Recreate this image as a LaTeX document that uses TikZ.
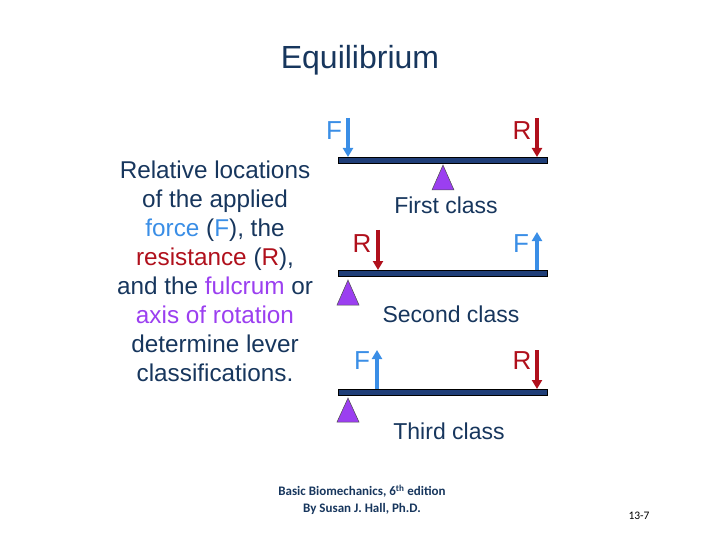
\documentclass[tikz,border=0pt]{standalone}
\usepackage{fontspec}
\setmainfont{Liberation Sans}
\newfontfamily\carl{Carlito}
\usetikzlibrary{arrows.meta}
\definecolor{txt}{HTML}{17365D}
\definecolor{fblue}{HTML}{3A8EE6}
\definecolor{rred}{HTML}{B0101C}
\definecolor{fpurp}{HTML}{9B3FF0}
\definecolor{barc}{HTML}{1F3E78}
\tikzset{
 bar/.style={fill=barc,draw=black,line width=0.6pt},
 fulc/.style={fill=fpurp,draw=black!70,line width=0.5pt},
 farr/.style={fblue,line width=3.6pt,-{Triangle[length=9pt,width=10pt]}},
 rarr/.style={rred,line width=3.6pt,-{Triangle[length=9pt,width=10pt]}},
 flab/.style={text=fblue,font=\fontsize{26}{26}\selectfont,inner sep=0pt},
 rlab/.style={text=rred,font=\fontsize{26}{26}\selectfont,inner sep=0pt},
 cls/.style={text=txt,font=\fontsize{23}{23}\selectfont,inner sep=0pt},
}
\begin{document}
\begin{tikzpicture}[x=1pt,y=-1pt]
\useasboundingbox (0,0) rectangle (720,540);
\node[text=txt,font=\fontsize{32}{32}\selectfont] (title) at (360,60) {Equilibrium};
\node[text=txt,align=center,font=\fontsize{24.3}{29}\selectfont,anchor=north] (desc) at (215,157)
 {Relative locations\\of the applied\\\textcolor{fblue}{force} (\textcolor{fblue}{F}), the\\\textcolor{rred}{resistance} (\textcolor{rred}{R}),\\and the \textcolor{fpurp}{fulcrum} or\\\textcolor{fpurp}{axis of rotation}\\determine lever\\classifications.};
% first class
\path[bar] (338,157) rectangle (547,163);
\path[fulc] (432,190) -- (443,165) -- (454,190) -- cycle;
\coordinate (f1s) at (348,118); \coordinate (f1e) at (348,157);
\coordinate (r1s) at (537,118); \coordinate (r1e) at (537,157);
\draw[farr] (f1s) -- (f1e);
\draw[rarr] (r1s) -- (r1e);
\node[flab] (F1) at (334,131) {F};
\node[rlab] (R1) at (522,131) {R};
\node[cls] (c1) at (446,205) {First class};
% second class
\path[bar] (338,270) rectangle (547,276);
\path[fulc] (337,305) -- (348,280) -- (359,305) -- cycle;
\coordinate (r2s) at (378,230); \coordinate (r2e) at (378,270);
\coordinate (f2s) at (537,270); \coordinate (f2e) at (537,232);
\draw[rarr] (r2s) -- (r2e);
\draw[farr] (f2s) -- (f2e);
\node[rlab] (R2) at (362,244) {R};
\node[flab] (F2) at (521,244) {F};
\node[cls] (c2) at (451,314) {Second class};
% third class
\path[bar] (338,389) rectangle (547,395);
\path[fulc] (337,422) -- (348,398) -- (359,422) -- cycle;
\coordinate (f3s) at (377,389); \coordinate (f3e) at (377,350);
\coordinate (r3s) at (537,350); \coordinate (r3e) at (537,389);
\draw[farr] (f3s) -- (f3e);
\draw[rarr] (r3s) -- (r3e);
\node[flab] (F3) at (362,361) {F};
\node[rlab] (R3) at (522,361) {R};
\node[cls] (c3) at (449,431) {Third class};
% footer
\node[text=txt,align=center,font=\carl\bfseries\fontsize{13}{17}\selectfont] (foot) at (362,500)
 {Basic Biomechanics, 6\textsuperscript{th} edition\\By Susan J. Hall, Ph.D.};
\node[font=\carl\fontsize{11.5}{11.5}\selectfont] (pg) at (639,516) {13-7};
\end{tikzpicture}
\end{document}
